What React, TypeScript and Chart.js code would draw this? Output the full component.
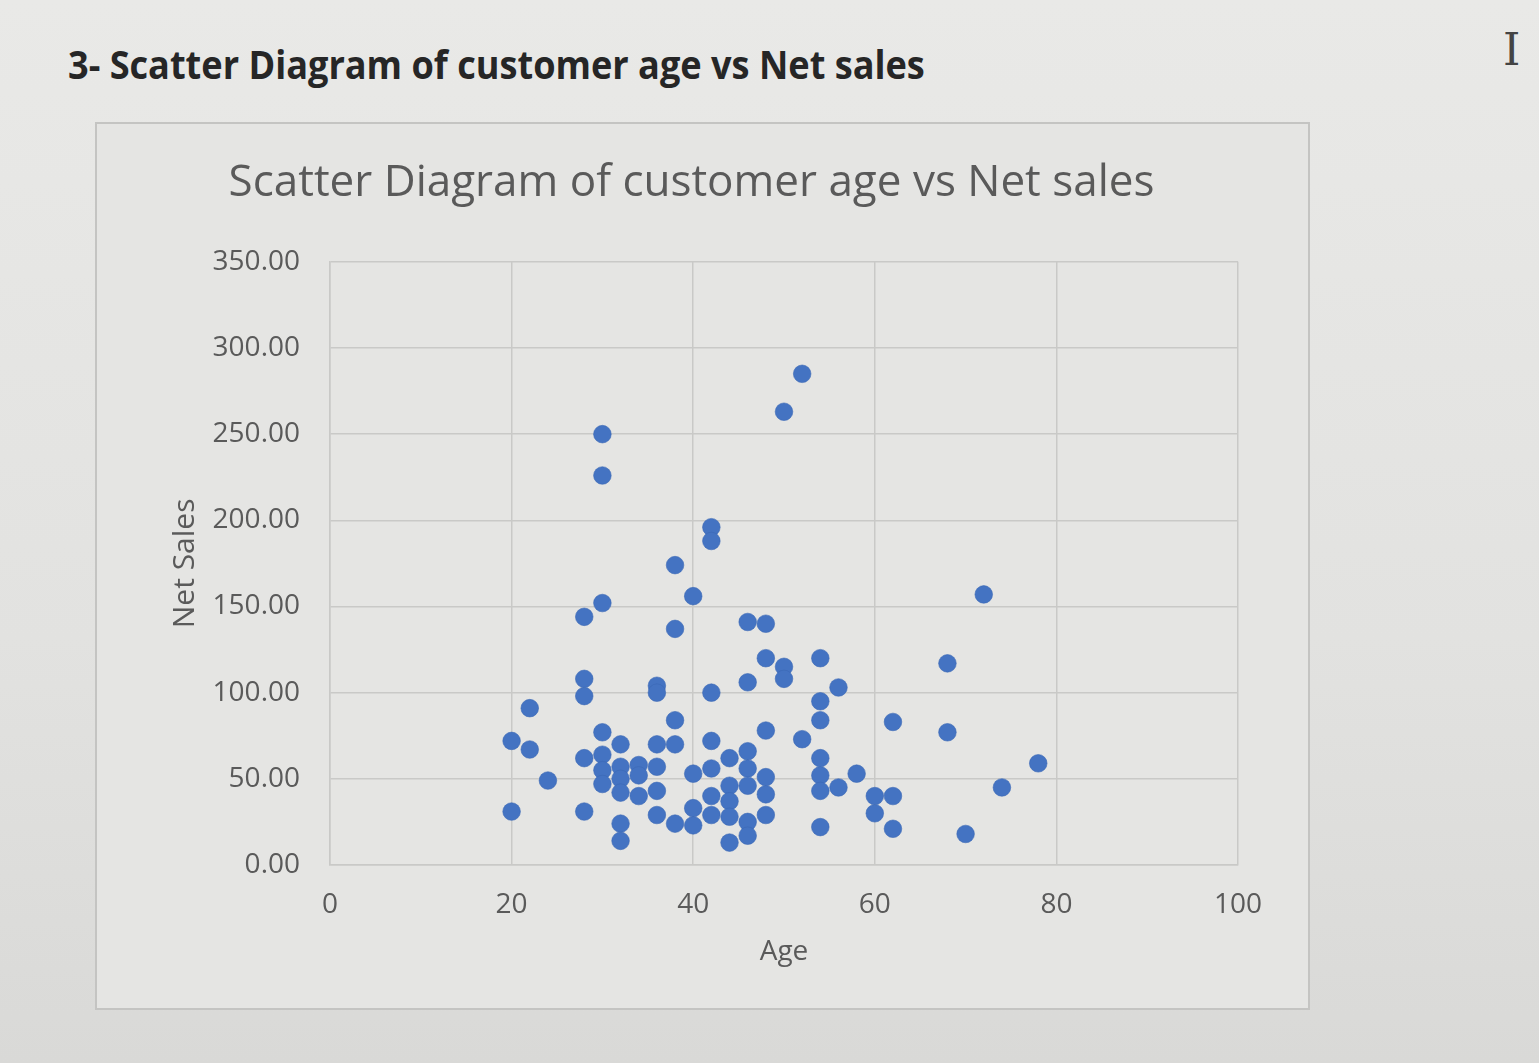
import React, { useEffect, useRef } from "react";
import { Chart, registerables } from "chart.js";

Chart.register(...registerables);

// Customer age (x) and net sales (y)
const ages: number[] = [
  20, 20,
  22, 22,
  24,
  28, 28, 28, 28, 28,
  30, 30, 30, 30, 30, 30, 30,
  32, 32, 32, 32, 32, 32,
  34, 34, 34,
  36, 36, 36, 36, 36, 36,
  38, 38, 38, 38, 38,
  40, 40, 40, 40,
  42, 42, 42, 42, 42, 42, 42,
  44, 44, 44, 44, 44,
  46, 46, 46, 46, 46, 46, 46,
  48, 48, 48, 48, 48, 48,
  50, 50, 50,
  52, 52,
  54, 54, 54, 54, 54, 54, 54,
  56, 56,
  58,
  60, 60,
  62, 62, 62,
  68, 68,
  70,
  72,
  74,
  78,
];
const netSales: number[] = [
  31, 72,
  91, 67,
  49,
  144, 108, 98, 62, 31,
  250, 226, 152, 77, 64, 55, 47,
  70, 57, 50, 42, 24, 14,
  58, 52, 40,
  104, 100, 70, 57, 43, 29,
  174, 137, 84, 70, 24,
  156, 53, 33, 23,
  196, 188, 100, 72, 56, 40, 29,
  62, 46, 37, 28, 13,
  141, 106, 66, 56, 46, 25, 17,
  140, 120, 78, 51, 41, 29,
  263, 115, 108,
  285, 73,
  120, 95, 84, 62, 52, 43, 22,
  103, 45,
  53,
  40, 30,
  83, 40, 21,
  117, 77,
  18,
  157,
  45,
  59,
];
const xTicks: number[] = [0, 20, 40, 60, 80, 100];
const yTicks: number[] = [0, 50, 100, 150, 200, 250, 300, 350];

const pageTitle = "3- Scatter Diagram of customer age vs Net sales";
const chartTitle = "Scatter Diagram of customer age vs Net sales";
const xTitle = "Age";
const yTitle = "Net Sales";

export default function App() {
  const canvasRef = useRef<HTMLCanvasElement | null>(null);

  useEffect(() => {
    if (!canvasRef.current) return;
    const points = ages.map((a, i) => ({ x: a, y: netSales[i] }));
    const textColor = "#5a5a5a";
    const gridColor = "#c9c9c7";
    const chart = new Chart(canvasRef.current, {
      type: "scatter",
      data: {
        datasets: [
          {
            label: yTitle,
            data: points,
            pointRadius: 8.8,
            pointHoverRadius: 8.8,
            backgroundColor: "#4473c2",
            borderColor: "#3b68b6",
            borderWidth: 0.6,
          },
        ],
      },
      options: {
        animation: false,
        responsive: false,
        maintainAspectRatio: false,
        layout: { padding: { left: 50, right: 72, top: 20, bottom: 38 } },
        plugins: {
          legend: { display: false },
          tooltip: { enabled: false },
          title: {
            display: true,
            text: chartTitle,
            color: textColor,
            font: { family: "'Open Sans', sans-serif", size: 44, weight: "normal" },
            padding: { top: 15, bottom: 52 },
          },
        },
        scales: {
          x: {
            type: "linear",
            min: 0,
            max: 100,
            afterBuildTicks: (s: any) => {
              s.ticks = xTicks.map((v) => ({ value: v }));
            },
            afterFit: (s: any) => {
              s.height = 107;
            },
            ticks: {
              color: textColor,
              padding: 23,
              font: { family: "'Open Sans', sans-serif", size: 28 },
            },
            grid: { color: gridColor, lineWidth: 1.5, drawTicks: false },
            border: { color: gridColor, width: 1.5 },
            title: {
              display: true,
              text: xTitle,
              color: textColor,
              font: { family: "'Open Sans', sans-serif", size: 28 },
              padding: { top: 10, bottom: 3 },
            },
          },
          y: {
            type: "linear",
            min: 0,
            max: 350,
            afterBuildTicks: (s: any) => {
              s.ticks = yTicks.map((v) => ({ value: v }));
            },
            afterFit: (s: any) => {
              s.width = 185;
            },
            ticks: {
              color: textColor,
              padding: 30,
              font: { family: "'Open Sans', sans-serif", size: 28 },
              callback: (v: any) => Number(v).toFixed(2),
            },
            grid: { color: gridColor, lineWidth: 1.5, drawTicks: false },
            border: { color: gridColor, width: 1.5 },
            title: {
              display: true,
              text: yTitle,
              color: textColor,
              font: { family: "'Open Sans', sans-serif", size: 30 },
              padding: { top: 22, bottom: 4 },
            },
          },
        },
      },
    });
    return () => chart.destroy();
  }, []);

  return (
    <div
      style={{
        position: "fixed",
        left: 0,
        top: 0,
        width: 1539,
        height: 1063,
        overflow: "hidden",
        background: "linear-gradient(180deg, #e9e9e7 0%, #e2e2e0 60%, #d9d9d7 100%)",
      }}
    >
      <div
        style={{
          position: "absolute",
          left: 68,
          top: 38,
          fontFamily: "'Open Sans', sans-serif",
          fontWeight: 700,
          fontSize: 40,
          lineHeight: "52px",
          color: "#262626",
          whiteSpace: "nowrap",
          transform: "scaleX(0.903)",
          transformOrigin: "left center",
        }}
      >
        {pageTitle}
      </div>
      <div
        style={{
          position: "absolute",
          left: 95,
          top: 122,
          width: 1215,
          height: 888,
          border: "2px solid #c4c4c2",
          boxSizing: "border-box",
          background: "#e5e5e3",
        }}
      />
      <canvas
        ref={canvasRef}
        width={1215}
        height={888}
        style={{ position: "absolute", left: 95, top: 122, width: 1215, height: 888 }}
      />
      <div
        style={{
          position: "absolute",
          left: 1503,
          top: 24,
          fontFamily: "'DejaVu Serif', serif",
          fontSize: 44,
          color: "#444",
        }}
      >
        I
      </div>
    </div>
  );
}
